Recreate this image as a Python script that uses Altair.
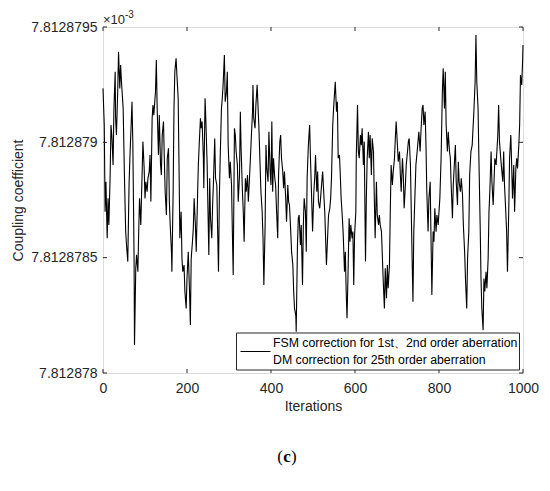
import altair as alt
import pandas as pd

# ---------------- data ----------------
# iteration number
iterations = [
    0, 3, 5, 7, 10, 12, 14, 17, 19, 21, 24, 26, 29, 30, 32, 35, 37, 40, 42, 44,
    48, 51, 54, 56, 59, 62, 64, 67, 69, 71, 74, 75, 78, 80, 83, 85, 87, 90, 93, 95,
    98, 100, 102, 105, 107, 110, 112, 114, 117, 119, 121, 125, 127, 129, 132, 134, 137, 139, 141, 144,
    146, 148, 151, 153, 156, 158, 160, 163, 164, 167, 169, 171, 174, 176, 179, 181, 183, 186, 188, 190,
    193, 195, 198,
    200, 203, 206, 208, 210, 213, 215, 217, 220, 222, 225, 227, 229, 232, 234, 236, 239, 240, 243, 245,
    248, 250, 252, 254, 256, 259, 261, 263, 266, 268, 271, 273, 275, 277, 279, 282, 284, 286, 289, 291,
    294, 296, 298, 301, 303, 306, 308, 310, 313, 315, 317, 320, 322, 325, 327, 329, 332, 334, 336, 339,
    341, 344, 346, 348, 351, 353, 356, 357, 359, 362, 364, 367, 369, 371, 374, 376, 379, 381, 383, 386,
    388, 390, 393, 395, 398, 400,
    402, 404, 406, 409, 411, 413, 416, 418, 421, 423, 425, 428, 430, 432, 435, 437, 440, 442, 444, 447,
    449, 452, 454, 456, 459, 460, 463, 465, 467, 470, 472, 475, 477, 479, 482, 484, 486, 489, 492, 494,
    497, 499, 502, 504, 506, 509, 511, 513, 516, 518, 521, 523, 525, 528, 530, 532, 535, 537, 540, 542,
    544, 547, 549, 552, 553, 556, 558, 560, 563, 565, 567, 570, 572, 575, 577, 579, 581, 583, 586, 588,
    590, 593, 595,
    597, 599, 602, 603, 606, 608, 610, 613, 615, 617, 620, 622, 625, 627, 629, 632, 634, 636, 639, 641,
    644, 646, 648, 651, 653, 656, 658, 660, 663, 665, 667, 670, 672, 675, 677, 679, 682, 684, 686, 689,
    691, 694, 696, 698, 701, 703, 706, 708, 710, 713, 715, 717, 720, 722, 725, 727, 729, 732, 734, 736,
    738, 740, 743, 745, 748, 750, 752, 755, 757, 760, 762, 764, 767, 769, 771, 774, 776, 779, 781, 783,
    786, 788, 790, 793, 795, 798,
    802, 805, 808, 810, 813, 815, 817, 820, 822, 825, 827, 829, 832, 834, 836, 839, 841, 844, 846, 848,
    851, 853, 856, 858, 861, 863, 866, 868, 871, 873, 876, 879, 883, 886, 888, 890, 893, 895, 898, 900,
    902, 905, 907, 909, 912, 914, 917, 919, 921, 924, 926, 929, 931, 933, 936, 940, 942, 944, 947, 949,
    952, 954, 956, 959, 961, 963, 966, 968, 971, 973, 975, 978, 980, 983, 985, 987, 990, 992, 994, 997,
    999, 1000,
]

# coupling coefficient above 7.812878e-3, in units of 1e-10
coupling_offset = [
    12.34, 10.75, 6.99, 8.29, 5.84, 7.57, 6.42, 8.58, 10.75, 10.32, 9.02, 11.47, 13.06, 11.04, 10.32, 12.20, 13.93, 12.34, 13.35, 12.63,
    11.47, 8.58, 6.13, 5.55, 4.83, 8.15, 9.31, 10.75, 11.76, 10.03, 4.97, 1.21, 4.54, 5.12, 4.39, 6.13, 7.57, 6.42, 8.58, 10.03,
    8.87, 7.57, 8.29, 7.86, 8.44, 8.73, 9.45, 7.43, 11.04, 11.62, 11.18, 12.20, 13.57, 11.47, 9.45, 11.18, 9.02, 8.58, 10.32, 10.90,
    9.31, 7.86, 6.85, 9.31, 9.74, 7.43, 6.42, 5.26, 4.39, 7.86, 11.47, 13.06, 13.64, 12.92, 11.91, 9.02, 5.84, 6.99, 4.97, 4.39,
    4.68, 3.53, 2.80,
    4.10, 5.26, 3.53, 2.08, 4.97, 5.69, 6.27, 7.57, 6.42, 5.26, 7.57, 9.02, 9.88, 11.04, 10.61, 10.90, 9.31, 8.01, 11.91, 10.90,
    9.02, 6.99, 5.12, 8.44, 6.71, 5.84, 7.28, 8.29, 10.17, 8.44, 8.15, 6.13, 4.39, 7.57, 9.31, 11.47, 11.91, 12.49, 13.79, 11.76,
    12.20, 13.06, 9.88, 8.44, 9.16, 8.15, 6.13, 4.25, 10.61, 10.32, 9.60, 9.02, 7.43, 8.58, 11.33, 9.60, 7.86, 6.99, 5.69, 8.44,
    7.86, 8.58, 7.43, 8.15, 9.31, 10.17, 11.33, 12.49, 11.04, 10.61, 11.62, 12.49, 11.62, 10.75, 9.02, 7.86, 6.99, 5.84, 3.82, 6.42,
    9.88, 8.87, 8.29, 10.46, 8.73, 8.15,
    10.90, 7.86, 9.31, 8.44, 8.15, 7.14, 5.84, 8.58, 10.03, 10.32, 9.31, 8.73, 8.01, 8.73, 7.57, 6.56, 8.15, 7.43, 7.28, 6.13,
    5.26, 4.68, 3.53, 2.80, 2.51, 1.79, 5.55, 6.71, 6.85, 5.55, 6.42, 3.82, 6.42, 7.57, 6.99, 5.26, 8.44, 9.88, 10.75, 9.31,
    7.43, 6.13, 7.86, 8.44, 9.45, 7.86, 8.73, 7.43, 7.14, 7.57, 8.29, 8.73, 8.01, 6.99, 5.84, 4.68, 5.98, 6.85, 7.14, 7.57,
    8.44, 10.75, 11.47, 12.34, 12.63, 11.33, 11.76, 9.31, 9.45, 8.58, 7.57, 6.71, 5.98, 4.39, 5.26, 3.53, 2.37, 3.96, 6.71, 5.69,
    6.42, 5.84, 6.13,
    3.82, 5.98, 6.99, 9.31, 11.62, 9.60, 9.31, 10.32, 9.88, 10.61, 9.02, 10.03, 4.83, 7.57, 9.31, 10.46, 9.31, 10.32, 8.58, 10.17,
    9.60, 7.57, 5.84, 8.29, 6.85, 6.42, 6.85, 6.42, 6.13, 5.12, 4.10, 2.80, 4.54, 3.24, 4.68, 3.67, 4.68, 6.99, 9.02, 8.15,
    8.73, 9.31, 10.17, 10.90, 9.88, 9.16, 9.60, 8.58, 7.86, 9.31, 8.58, 7.14, 8.15, 9.02, 9.60, 10.03, 10.17, 9.02, 6.99, 4.97,
    3.09, 6.13, 7.86, 9.02, 9.60, 10.03, 10.46, 9.60, 10.46, 11.47, 11.62, 10.75, 11.33, 9.88, 7.86, 6.13, 7.57, 8.29, 5.84, 3.38,
    6.13, 5.69, 7.14, 6.13, 6.85, 6.42,
    7.57, 9.31, 12.20, 13.21, 11.47, 13.06, 10.75, 9.60, 10.46, 9.60, 9.31, 8.15, 6.71, 8.15, 8.87, 9.88, 8.29, 7.28, 9.16, 8.29,
    7.86, 8.44, 7.72, 6.42, 5.26, 4.10, 2.80, 4.97, 6.13, 8.58, 9.60, 9.88, 11.33, 12.63, 14.65, 12.63, 11.47, 9.31, 6.42, 4.10,
    2.80, 1.86, 4.10, 3.53, 4.39, 3.67, 4.97, 6.99, 7.86, 9.60, 8.29, 7.28, 8.29, 9.31, 9.02, 10.32, 11.62, 10.03, 9.31, 8.87,
    8.29, 9.60, 8.15, 6.99, 6.13, 4.39, 6.99, 9.31, 10.32, 9.02, 7.57, 9.02, 6.99, 8.87, 9.31, 8.87, 9.88, 10.75, 12.92, 12.49,
    13.50, 14.22,
]

BASE = 7.812878  # displayed in units of 10^-3

x_ticks = [0, 200, 400, 600, 800, 1000]
y_ticks = [7.812878, 7.8128785, 7.812879, 7.8128795]
legend_lines = ["FSM correction for 1st、2nd order aberration",
                "DM correction for 25th order aberration"]
x_title = "Iterations"
y_title = "Coupling coefficient"
exponent_base = "×10"
exponent_power = "-3"
caption_parts = ["(", "c", ")"]

# ---------------- chart ----------------
df = pd.DataFrame({"iteration": iterations, "offset": coupling_offset})
df["coupling"] = BASE + df["offset"] * 1e-7

W, H = 420, 346
AX = "#262626"
FONT = "Liberation Sans"
TL = 4  # inward tick length

xscale = alt.Scale(domain=[0, 1000], nice=False, zero=False)
yscale = alt.Scale(domain=[7.812878, 7.8128795], nice=False, zero=False)

xaxis = alt.Axis(values=x_ticks, format="d", title=x_title, labelFlush=False,
                 domain=False, ticks=False, grid=False,
                 labelFontSize=14, labelFont=FONT, labelColor=AX,
                 labelPadding=8, titleFontSize=14, titleFont=FONT,
                 titleColor=AX, titleFontWeight="normal", titlePadding=4)
yaxis = alt.Axis(values=y_ticks, format=".7~f", title=y_title,
                 domain=False, ticks=False, grid=False,
                 labelFontSize=14, labelFont=FONT, labelColor=AX,
                 labelPadding=6, titleFontSize=14, titleFont=FONT,
                 titleColor=AX, titleFontWeight="normal", titlePadding=5)

line = alt.Chart(df).mark_line(color="black", strokeWidth=1.1).encode(
    x=alt.X("iteration:Q", scale=xscale, axis=xaxis, title=x_title),
    y=alt.Y("coupling:Q", scale=yscale, axis=yaxis, title=y_title),
)

xt = pd.DataFrame({"t": x_ticks})
yt = pd.DataFrame({"v": y_ticks})
tick_bottom = alt.Chart(xt).mark_rule(color=AX, strokeWidth=1).encode(
    x=alt.X("t:Q", scale=xscale, axis=xaxis, title=x_title),
    y=alt.value(H), y2=alt.value(H - TL))
tick_top = alt.Chart(xt).mark_rule(color=AX, strokeWidth=1).encode(
    x=alt.X("t:Q", scale=xscale, axis=xaxis, title=x_title),
    y=alt.value(0), y2=alt.value(TL))
tick_left = alt.Chart(yt).mark_rule(color=AX, strokeWidth=1).encode(
    y=alt.Y("v:Q", scale=yscale, axis=yaxis, title=y_title),
    x=alt.value(0), x2=alt.value(TL))
tick_right = alt.Chart(yt).mark_rule(color=AX, strokeWidth=1).encode(
    y=alt.Y("v:Q", scale=yscale, axis=yaxis, title=y_title),
    x=alt.value(W - TL), x2=alt.value(W))

exp1 = alt.Chart(pd.DataFrame({"t": [exponent_base]})).mark_text(
    align="left", baseline="middle", fontSize=13, font=FONT, color=AX).encode(
    text="t:N", x=alt.value(0), y=alt.value(-7))
exp2 = alt.Chart(pd.DataFrame({"t": [exponent_power]})).mark_text(
    align="left", baseline="middle", fontSize=10, font=FONT, color=AX).encode(
    text="t:N", x=alt.value(22), y=alt.value(-12))

# legend box (bottom-right, inside the axes)
leg_box = alt.Chart(pd.DataFrame({"k": [0]})).mark_rect(
    fill="white", stroke=AX, strokeWidth=1).encode(
    x=alt.value(133.5), x2=alt.value(416.5), y=alt.value(306), y2=alt.value(343))
leg_line = alt.Chart(pd.DataFrame({"k": [0]})).mark_rule(color="black", strokeWidth=1).encode(
    x=alt.value(137.5), x2=alt.value(167.5), y=alt.value(324.5))
leg_t1 = alt.Chart(pd.DataFrame({"t": [legend_lines[0]]})).mark_text(
    align="left", baseline="middle", fontSize=12.3, font=FONT, color="black").encode(
    text="t:N", x=alt.value(170), y=alt.value(316))
leg_t2 = alt.Chart(pd.DataFrame({"t": [legend_lines[1]]})).mark_text(
    align="left", baseline="middle", fontSize=12.3, font=FONT, color="black").encode(
    text="t:N", x=alt.value(170), y=alt.value(333))

# caption "(c)"
cx, cy = 184, 430
cap1 = alt.Chart(pd.DataFrame({"t": [caption_parts[0]]})).mark_text(
    align="right", baseline="middle", fontSize=17, font="Liberation Serif", color="black").encode(
    text="t:N", x=alt.value(cx - 4), y=alt.value(cy))
cap2 = alt.Chart(pd.DataFrame({"t": [caption_parts[1]]})).mark_text(
    align="center", baseline="middle", fontSize=17, font="Liberation Serif",
    fontWeight="bold", color="black").encode(
    text="t:N", x=alt.value(cx), y=alt.value(cy))
cap3 = alt.Chart(pd.DataFrame({"t": [caption_parts[2]]})).mark_text(
    align="left", baseline="middle", fontSize=17, font="Liberation Serif", color="black").encode(
    text="t:N", x=alt.value(cx + 4), y=alt.value(cy))

chart = alt.layer(
    line, tick_bottom, tick_top, tick_left, tick_right,
    exp1, exp2, leg_box, leg_line, leg_t1, leg_t2, cap1, cap2, cap3,
).properties(
    width=W, height=H,
    autosize=alt.AutoSizeParams(type="none"),
    padding={"left": 95, "top": 19, "right": 17, "bottom": 100},
).configure_view(
    stroke=AX, strokeWidth=1
).configure(background="white")

chart.save("out.html", embed_options={"renderer": "svg", "actions": False})
